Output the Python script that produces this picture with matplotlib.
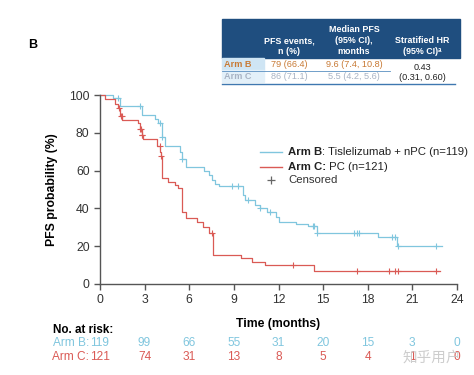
import matplotlib
matplotlib.use('Agg')
import matplotlib.pyplot as plt
from matplotlib.patches import Rectangle
import numpy as np

plt.rcParams['font.family'] = ['Liberation Sans', 'DejaVu Sans']

# Kaplan-Meier steps (time in months, PFS %)
armB_t = [0, 0.9, 1.34, 2.8, 3.7, 3.9, 4.15, 4.37, 5.38, 5.5, 5.8, 7.0, 7.3, 7.5, 7.7,
          8.0, 9.6, 9.75, 10.4, 10.75, 11.2, 11.8, 12.0, 13.2, 14.0, 14.6, 18.7, 19.95]
armB_s = [100, 98.5, 94, 89.5, 87.5, 85, 78, 73, 70, 66, 62, 60, 57.5, 55, 53,
          52, 47, 44.5, 42, 40, 38, 35.5, 33, 32, 30.5, 27, 25, 20]
armB_end = 23.0
armB_cens = [1.23, 2.7, 4.03, 4.2, 5.5, 8.85, 9.3, 9.95, 10.75, 11.4, 14.3, 14.4,
             14.6, 17.1, 17.3, 17.4, 19.6, 19.8, 20.05, 22.6]

armC_t = [0, 0.34, 1.0, 1.2, 1.35, 1.46, 2.57, 2.7, 2.8, 2.9, 3.8, 4.03, 4.1, 4.15,
          4.6, 5.04, 5.26, 5.5, 5.8, 6.5, 6.9, 7.3, 7.6, 9.5, 10.2, 11.1, 14.4]
armC_s = [100, 98, 95, 93, 89, 87, 85, 82, 79, 76.5, 73, 70, 67.5, 56,
          54, 52.5, 51, 38, 35, 33, 30, 27, 15.5, 13.7, 11.8, 9.8, 7]
armC_end = 22.85
armC_cens = [1.3, 1.4, 1.45, 2.7, 2.75, 2.8, 2.85, 4.0, 4.1, 7.5, 13.0, 17.3,
             19.4, 19.8, 20.0, 22.6]

risk_times = [0, 3, 6, 9, 12, 15, 18, 21, 24]
risk_B = [119, 99, 66, 55, 31, 20, 15, 3, 0]
risk_C = [121, 74, 31, 13, 8, 5, 4, 1, 0]

tbl_header = ['PFS events,\nn (%)', 'Median PFS\n(95% CI),\nmonths', 'Stratified HR\n(95% CI)ᵃ']
tbl_arms = ['Arm B', 'Arm C']
tbl_events = ['79 (66.4)', '86 (71.1)']
tbl_median = ['9.6 (7.4, 10.8)', '5.5 (4.2, 5.6)']
tbl_hr = ['0.43', '(0.31, 0.60)']

blue = '#80c6de'
red = '#da5a55'
W, H = 474, 375


def fx(x):
    return x / W


def fy(y):
    return 1 - y / H


def surv_at(ts, ss, t):
    i = np.searchsorted(ts, t, side='right') - 1
    return ss[i]


fig = plt.figure(figsize=(W / 100, H / 100), dpi=100)
ax = fig.add_axes([fx(100), fy(284), fx(457) - fx(100), fy(95) - fy(284)])

for ts, ss, end, cens, col in [(armB_t, armB_s, armB_end, armB_cens, blue),
                               (armC_t, armC_s, armC_end, armC_cens, red)]:
    ax.step(ts + [end], ss + [ss[-1]], where='post', color=col, lw=0.9, clip_on=False)
    cy = [surv_at(ts, ss, c) for c in cens]
    ax.plot(cens, cy, ls='none', marker='+', ms=5, mew=0.8, color=col, clip_on=False)

ax.set_xlim(0, 24)
ax.set_ylim(0, 100)
ax.set_xticks(risk_times)
ax.set_yticks(range(0, 101, 20))
for s in ['top', 'right']:
    ax.spines[s].set_visible(False)
for s in ['left', 'bottom']:
    ax.spines[s].set_color('#555555')
    ax.spines[s].set_linewidth(1.0)
ax.tick_params(colors='#555555', labelcolor='#333333', labelsize=8.8, length=4, width=1)
ax.set_xlabel('Time (months)', fontsize=8.8, fontweight='bold', labelpad=8)
ax.set_ylabel('PFS probability (%)', fontsize=8.8, fontweight='bold', labelpad=8)

# legend
ax.plot([10.76, 12.24], [70.1, 70.1], color=blue, lw=1.0, clip_on=False)
ax.plot([10.76, 12.24], [62, 62], color=red, lw=1.0, clip_on=False)
ax.plot([11.5], [55], marker='+', ms=6, mew=0.9, color='#666666', clip_on=False)
leg_bold = ['Arm B', 'Arm C:']
leg_rest = [': Tislelizumab + nPC (n=119)', ' PC (n=121)']
for yv, b, r in zip([70.1, 62], leg_bold, leg_rest):
    t1 = ax.text(12.65, yv, b, fontsize=8.2, fontweight='bold', va='center', color='#222222')
    ax.annotate(r, xy=(1, 0.5), xycoords=t1, va='center', fontsize=8.2, color='#222222')
ax.text(12.65, 55, 'Censored', fontsize=8.2, va='center', color='#333333')

# number at risk
fig.text(fx(53), fy(330), 'No. at risk:', fontsize=8.4, fontweight='bold', va='center')
for t, b, c in zip(risk_times, risk_B, risk_C):
    ax.text(t, -(343 - 284) / (284 - 95), str(b), transform=ax.get_xaxis_transform(),
            fontsize=8.6, color=blue, ha='center', va='center')
    ax.text(t, -(357 - 284) / (284 - 95), str(c), transform=ax.get_xaxis_transform(),
            fontsize=8.6, color=red, ha='center', va='center')
fig.text(fx(89), fy(343), 'Arm B:', fontsize=8.6, color=blue, ha='right', va='center')
fig.text(fx(89), fy(357), 'Arm C:', fontsize=8.6, color=red, ha='right', va='center')

# panel label
fig.text(fx(28), fy(45), 'B', fontsize=9, fontweight='bold', va='center')

# summary table
navy = '#1f4e7f'
fig.patches.append(Rectangle((fx(222), fy(58)), fx(460) - fx(222), fy(19) - fy(58),
                             transform=fig.transFigure, color=navy))
fig.patches.append(Rectangle((fx(222), fy(70)), fx(264) - fx(222), fy(58) - fy(70),
                             transform=fig.transFigure, color='#cfe5f4'))
fig.patches.append(Rectangle((fx(222), fy(82)), fx(264) - fx(222), fy(70) - fy(82),
                             transform=fig.transFigure, color='#e3f0f9'))
fig.add_artist(plt.Line2D([fx(222), fx(390)], [fy(70.5), fy(70.5)], color='#5a8fc0', lw=0.6))
fig.add_artist(plt.Line2D([fx(222), fx(455)], [fy(83.5), fy(83.5)], color='#3f78b0', lw=1.0))
for cx, txt in zip([289, 354, 422], tbl_header):
    fig.text(fx(cx), fy(56), txt, fontsize=6.4, fontweight='bold', color='white',
             ha='center', va='bottom', linespacing=1.25)
arm_cols = ['#c87a35', '#a8b3c4']
for i, yy in enumerate([64.5, 76.5]):
    fig.text(fx(224), fy(yy), tbl_arms[i], fontsize=6.6, fontweight='bold', color=arm_cols[i],
             va='center')
    fig.text(fx(289), fy(yy), tbl_events[i], fontsize=6.6, color=arm_cols[i], ha='center', va='center')
    fig.text(fx(354), fy(yy), tbl_median[i], fontsize=6.6, color=arm_cols[i], ha='center', va='center')
fig.text(fx(422), fy(67), tbl_hr[0], fontsize=6.6, color='#222222', ha='center', va='center')
fig.text(fx(422), fy(78), tbl_hr[1], fontsize=6.6, color='#222222', ha='center', va='center')

# watermark
fig.text(fx(432), fy(358), '知乎用户', fontsize=10.5, color='#c8c8c8', ha='center', va='center',
         family=['Noto Sans CJK SC', 'DejaVu Sans'], alpha=0.9)

fig.savefig('out.png', dpi=100)
